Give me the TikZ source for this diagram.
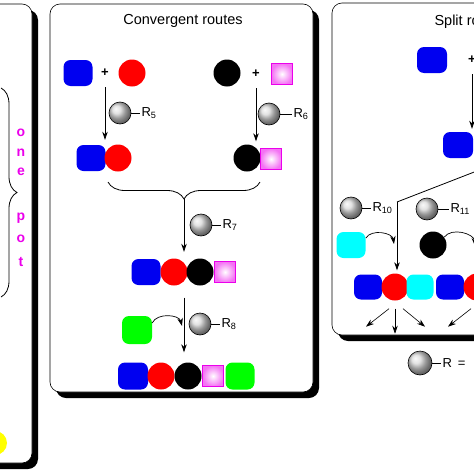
\documentclass[tikz,border=0pt]{standalone}
\usepackage{fontspec}
\setmainfont{Liberation Sans}
\usepackage{tikz}
\usetikzlibrary{calc,positioning,arrows.meta,decorations.pathreplacing,shadings}
\definecolor{mblue}{RGB}{0,0,240}
\definecolor{mred}{RGB}{255,0,0}
\definecolor{mgreen}{RGB}{0,255,0}
\definecolor{mcyan}{RGB}{0,255,255}
\definecolor{mmag}{RGB}{235,0,235}
\definecolor{myel}{RGB}{255,255,0}

\begin{document}
\begin{tikzpicture}[x=1pt, y=-1pt, lbl/.style={inner sep=1pt, font=\fontsize{13}{15}\selectfont}, arr/.style={-{Stealth[length=8pt,width=5.5pt]}, line width=0.8pt}]
\tikzstyle{sq}=[rectangle, rounded corners=7pt, minimum width=29pt, minimum height=26pt, inner sep=0pt]
\tikzstyle{disc}=[circle, minimum size=27pt, inner sep=0pt]
\tikzstyle{msq}=[rectangle, draw=mmag, line width=1.6pt, minimum size=21pt, inner sep=0pt, inner color=white, outer color=mmag!55]
\tikzstyle{sph}=[circle, draw, line width=0.6pt, minimum size=22pt, inner sep=0pt, ball color=gray!30]
\tikzstyle{pnl}=[draw, line width=0.6pt, fill=white, rounded corners=10pt]
\tikzstyle{shd}=[fill=black, rounded corners=10pt]
\tikzstyle{pls}=[inner sep=1pt, minimum height=28pt, font=\bfseries\fontsize{13}{13}\selectfont]
\tikzstyle{ttl}=[font=\fontsize{14.5}{17}\selectfont]
\tikzstyle{pot}=[text=mmag, font=\bfseries\fontsize{14}{14}\selectfont]
\useasboundingbox (0,0) rectangle (474,474);
\clip (0,0) rectangle (474,474);

% panels
\fill[shd] (-94,10) rectangle (38,469);
\draw[pnl] (-100,4) rectangle (32,463);
\fill[shd] (56,10) rectangle (319,398);
\draw[pnl] (50,4) rectangle (313,392);
\fill[shd] (338,9) rectangle (620,341);
\draw[pnl] (332,3) rectangle (614,335);

% one pot
\draw[line width=0.8pt, decorate, decoration={brace, amplitude=16pt}] (1,88) -- (1,297);
\foreach \c/\y [count=\i] in {o/133, n/153, e/172, p/218, o/239, t/262}{
\node[pot] (pot\i) at (21,\y) {\c};
}
\node[disc, fill=myel, minimum size=24pt] (y1) at (-5,443) {};

% convergent routes
\node[ttl] (t1) at (183,21) {Convergent routes};
\node[sq, fill=mblue] (b1) at (78,73) {};
\node[pls] (p1) at (105,73) {+};
\node[disc, fill=mred] (r1) at (132,73) {};
\node[disc, fill=black] (k1) at (227,73) {};
\node[pls] (p2) at (256,74) {+};
\node[msq] (m1) at (282,74) {};

\node[sq, fill=mblue] (b2) at (91,158) {};
\node[disc, fill=mred] (r2) at (118,158) {};
\node[disc, fill=black] (k2) at (247,158) {};
\node[msq] (m2) at (271,159) {};
\draw[arr, shorten >=5pt] (p1) -- (p1 |- b2.north);
\draw[arr, shorten >=3pt] (p2) -- (p2 |- k2.north);
\node[sph] (s5) at (120,113) {};
\node[lbl, right=9pt of s5] (l5) {R\textsubscript{5}};
\draw[line width=0.8pt] (s5) -- (l5);
\node[sph] (s6) at (269,114) {};
\node[lbl, right=12pt of s6] (l6) {R\textsubscript{6}};
\draw[line width=0.8pt] (s6) -- (l6);

\draw[line width=0.8pt, decorate, decoration={brace, amplitude=17pt}] (260,182) -- (108,182);
\coordinate (bt) at (184,199);
\node[sq, fill=mblue] (b3) at (146,272) {};
\node[disc, fill=mred] (r3) at (174,272) {};
\node[disc, fill=black] (k3) at (200,272) {};
\node[msq] (m3) at (225,272) {};
\draw[arr, shorten >=7pt] (bt) -- (bt |- b3.north);
\node[sph] (s7) at (201,225) {};
\node[lbl, right=9pt of s7] (l7) {R\textsubscript{7}};
\draw[line width=0.8pt] (s7) -- (l7);

\node[sq, fill=mblue, minimum width=30pt, minimum height=27pt] (b4) at (133,376) {};
\node[disc, fill=mred] (r4) at (161,376) {};
\node[disc, fill=black] (k4) at (188,376) {};
\node[msq] (m4) at (213,376) {};
\node[sq, fill=mgreen, minimum height=27pt] (g2) at (240,376) {};
\draw[arr, shorten <=12pt, shorten >=10pt] (bt |- k3.south) -- (bt |- b4.north);

\node[sq, fill=mgreen, minimum width=30pt, minimum height=28pt] (g1) at (137,330) {};
\coordinate (e8) at (182,326);
\draw[arr, line width=0.7pt] (g1.25) to[bend left=70] (e8);
\node[sph] (s8) at (200,324) {};
\node[lbl, right=9pt of s8] (l8) {R\textsubscript{8}};
\draw[line width=0.8pt] (s8) -- (l8);

% split routes
\node[ttl, anchor=west] (t2) at (431,22) {Split routes};
\node[sq, fill=mblue, minimum width=30pt] (b5) at (432,60) {};
\node[pls] (p3) at (472,60) {+};
\node[sq, fill=mblue, minimum width=30pt] (b6) at (458,145) {};
\draw[arr, shorten >=3pt] (p3) -- (p3 |- b6.north);

\node[sq, fill=mblue, minimum width=28pt, minimum height=25pt] (b7) at (368,287) {};
\node[disc, fill=mred] (r5) at (395,287) {};
\node[sq, fill=mcyan, minimum width=27pt, minimum height=25pt] (c2) at (420,287) {};
\node[sq, fill=mblue, minimum width=28pt, minimum height=25pt] (b8) at (450,287) {};
\node[disc, fill=mred] (r6) at (477,287) {};

\coordinate (sp) at (500,162);
\coordinate (d1) at (397,202);
\draw[line width=0.8pt] (sp) -- (d1);
\draw[arr, shorten >=3pt] (d1) -- (d1 |- r5.north);
\draw[arr, shorten >=3pt] (r6 |- sp) -- (r6.north);

\node[sph] (s10) at (351,208) {};
\node[lbl, right=9pt of s10] (l10) {R\textsubscript{10}};
\draw[line width=0.8pt] (s10) -- (l10);
\node[sph] (s11) at (427,209) {};
\node[lbl, right=11pt of s11] (l11) {R\textsubscript{11}};
\draw[line width=0.8pt] (s11) -- (l11);

\node[sq, fill=mcyan] (c1) at (351,245) {};
\coordinate (e10) at (394,244);
\draw[arr, line width=0.7pt] (c1.25) to[bend left=70] (e10);
\node[disc, fill=black] (k5) at (433,245) {};
\coordinate (e11) at (475,246);
\draw[arr, line width=0.7pt] (k5.35) to[bend left=70] (e11);

\foreach \n in {5,6}{
\draw[arr, line width=0.6pt] (r\n.south) ++(-6,8) -- ++(-23,18);
\draw[arr, line width=0.6pt] (r\n.south) ++(0,8) -- ++(0,25);
\draw[arr, line width=0.6pt] (r\n.south) ++(8,8) -- ++(22,18);
}

% legend
\node[sph, minimum size=24pt] (s0) at (420,363) {};
\node[lbl, right=9pt of s0] (l0) {R\hspace{6pt}=};
\draw[line width=0.8pt] (s0) -- (l0);
\end{tikzpicture}
\end{document}
